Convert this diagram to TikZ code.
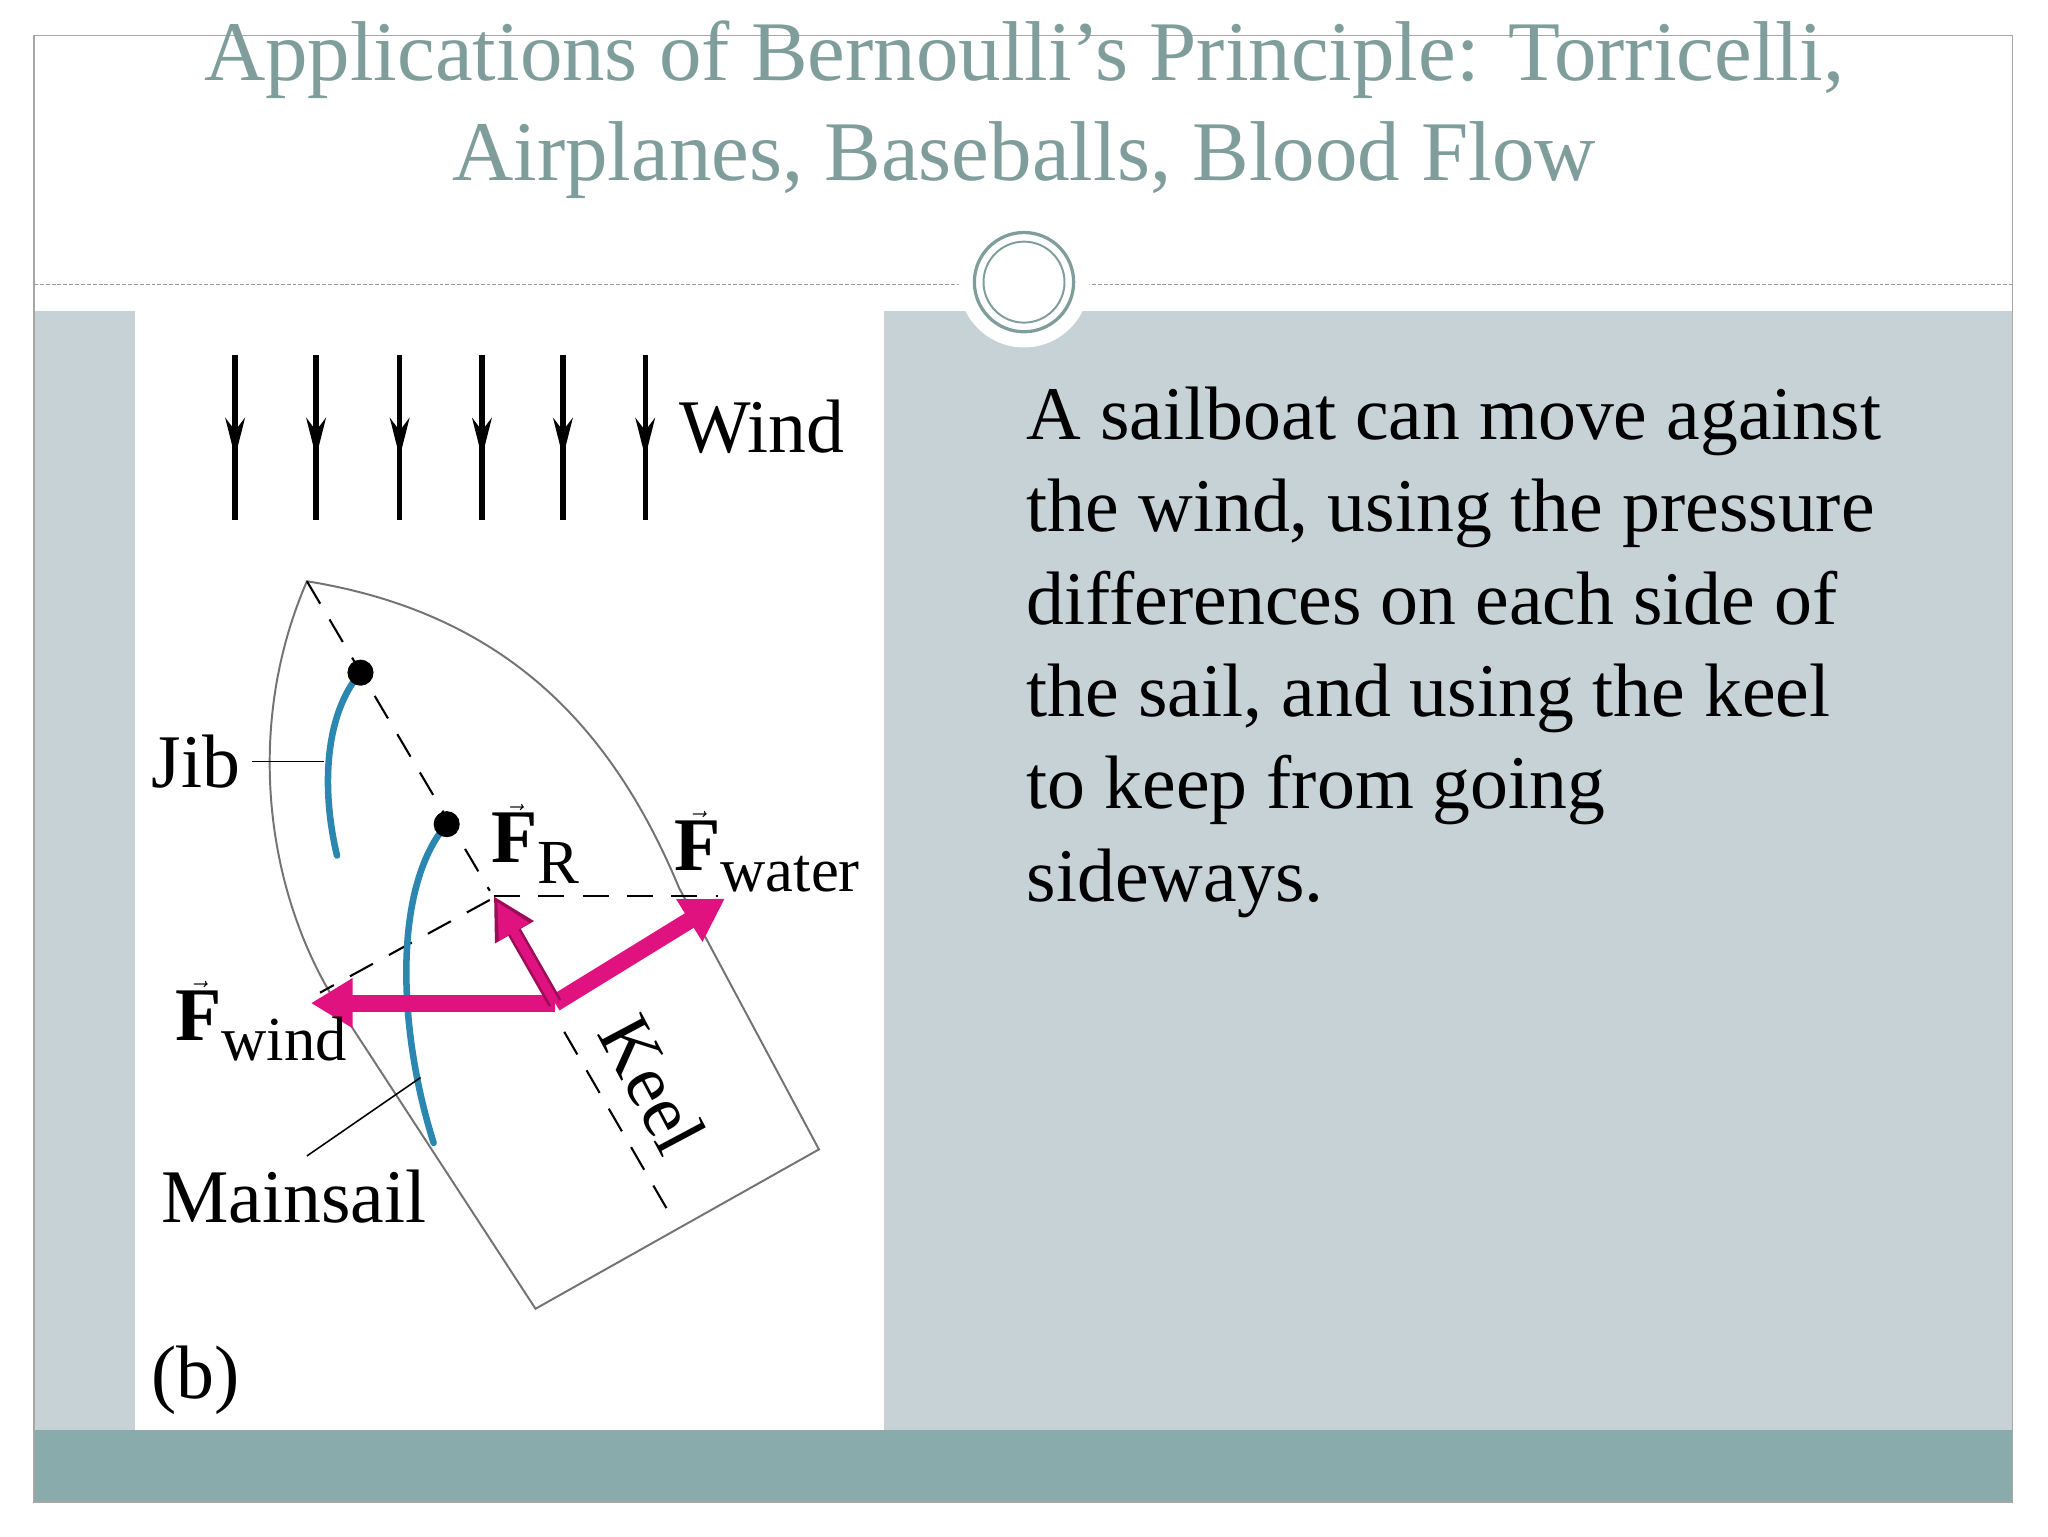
\documentclass[tikz,border=0pt]{standalone}
\usepackage{fontspec}
\setmainfont{Liberation Serif}
\usetikzlibrary{arrows.meta,calc}
\definecolor{bggray}{HTML}{C7D2D6}
\definecolor{teal}{HTML}{8AABAB}
\definecolor{titlec}{HTML}{7F9E9B}
\definecolor{pinkc}{HTML}{E0127F}
\definecolor{sailc}{HTML}{2B86B0}
\newcommand{\vF}{$\vec{\mathbf{F}}$}
\tikzset{
 sail/.style={sailc,line width=5pt,line cap=round},
 windarrow/.style={line width=4pt,-{Stealth[length=30pt,width=15pt]}},
 force/.style={pinkc,line width=13pt,-{Triangle[length=32pt,width=36pt]}},
 lbl/.style={font=\fontsize{58}{64}\selectfont,inner sep=0pt},
 cline/.style={dash pattern=on 20pt off 14pt,line width=1.6pt},
}
\begin{document}
\begin{tikzpicture}[x=1pt,y=-1pt]
\useasboundingbox (0,0) rectangle (1568,1176);
\fill[white] (0,0) rectangle (1568,1176);
\fill[bggray] (26,238) rectangle (1541,1095);
\fill[teal] (26,1095) rectangle (1541,1150);
\draw[gray!70,line width=1pt] (26,27) rectangle (1541,1150);
\draw[gray!80,dash pattern=on 3pt off 1.5pt,line width=1pt] (26,218) -- (1541,218);
\fill[white] (784,216) circle (50);
\draw[titlec,line width=2.5pt] (784,216) circle (38);
\draw[titlec,line width=1.5pt] (784,216) circle (31);
\node[titlec,font=\fontsize{65}{77}\selectfont,align=center] (title) at (784,84) {Applications of Bernoulli’s Principle: Torricelli,\\Airplanes, Baseballs, Blood Flow};
\node[anchor=north west,align=left,font=\fontsize{58}{70.7}\selectfont,inner sep=0pt] (body) at (786,296) {A sailboat can move against\\the wind, using the pressure\\differences on each side of\\the sail, and using the keel\\to keep from going\\sideways.};
% image panel
\fill[white] (103,238) rectangle (677,1095);
\foreach \x [count=\i] in {180,242,306,369,431,494}{
 \draw[windarrow] (\x,272) -- (\x,350);
 \draw[line width=4pt] (\x,330) -- (\x,398);
}
\node[lbl,anchor=west] (wind) at (520,327) {Wind};
% boat
\draw[gray!90!black,line width=1.5pt,fill=white] (235,445) .. controls (390,470) and (470,560) .. (520,680) -- (627,880) -- (410,1002) -- (262,775) .. controls (205,690) and (185,560) .. cycle;
\coordinate (bow) at (235,445);
\coordinate (R) at (378,686);
\coordinate (V) at (425,768);
\draw[cline] (bow) -- (375,682);
\draw[cline] (R) -- (550,686);
\draw[cline] (375,689) -- (245,760);
\draw[cline] (432,790) -- (512,928);
\draw[sail] (276,515) .. controls (250,545) and (245,600) .. (258,655);
\draw[sail] (342,631) .. controls (300,680) and (305,790) .. (332,875);
\fill (276,515) circle (10);
\fill (342,631) circle (10);
\draw[line width=1.2pt] (193,583) -- (248,583);
\draw[line width=1.2pt] (235,885) -- (322,825);
\draw[force] (V) -- (238,768);
\draw[force] (V) -- (555,688);
\draw[pinkc!70!black,line width=11pt,-{Triangle[length=32pt,width=32pt]}] (V) -- (R);
\draw[pinkc,line width=7pt,-{Triangle[length=27pt,width=25pt]}] (V) -- ($(R)!0.05!(V)$);
\node[lbl] (jib) at (150,583) {Jib};
\node[lbl,anchor=west] (fr) at (376,646) {\vF\raisebox{-16pt}{\fontsize{48}{50}\selectfont R}};
\node[lbl,anchor=west] (fw) at (516,652) {\vF\raisebox{-16pt}{\fontsize{48}{50}\selectfont water}};
\node[lbl,anchor=west] (fwi) at (134,782) {\vF\raisebox{-16pt}{\fontsize{48}{50}\selectfont wind}};
\node[lbl] (main) at (225,916) {Mainsail};
\node[lbl,rotate=-62] (keel) at (500,830) {Keel};
\node[lbl] (b) at (150,1057) {(b)};
\end{tikzpicture}
\end{document}
